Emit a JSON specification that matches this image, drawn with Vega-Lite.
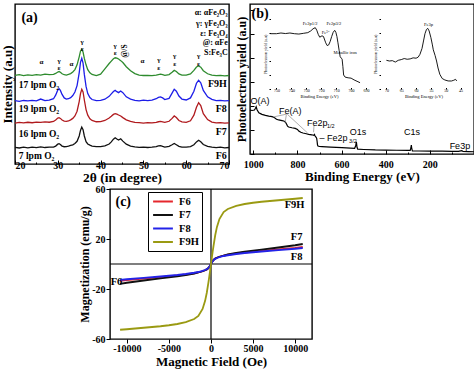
{
"$schema": "https://vega.github.io/schema/vega-lite/v6.json",
"padding": {"left": 0, "top": 3, "right": 0, "bottom": 0},
"background": "white",
"config": {
  "font": "Liberation Serif",
  "view": {"stroke": null},
  "axis": {"labelFont": "Liberation Serif", "labelFontWeight": "bold", "labelFontSize": 10, "labelColor": "black", "titleFont": "Liberation Serif", "titleFontWeight": "bold", "titleFontSize": 14, "titleColor": "black", "grid": false, "domain": false, "tickColor": "black", "tickWidth": 1},
  "text": {"font": "Liberation Serif", "fontWeight": "bold", "color": "black"}
},
"resolve": {"scale": {"color": "independent"}},
"spacing": -2,
"vconcat": [
 {"hconcat": [
  {
   "width": 214, "height": 160,
   "view": {"stroke": "black", "strokeWidth": 1.4},
   "encoding": {
     "x": {"field": "t", "type": "quantitative", "scale": {"domain": [20, 70], "nice": false, "zero": false},
       "axis": {"title": "2θ (in degree)", "values": [20,25,30,35,40,45,50,55,60,65,70], "labelExpr": "datum.value % 10 === 0 ? datum.label : ''", "tickSize": {"condition": {"test": "datum.value % 10 === 0", "value": -4}, "value": -2}, "labelPadding": 0, "titlePadding": 0, "titleFontSize": 13.5}},
     "y": {"field": "v", "type": "quantitative", "scale": {"domain": [0, 100], "nice": false},
       "axis": {"title": "Intensity (a.u)", "labels": false, "ticks": false, "titlePadding": 1, "titleFontSize": 13}}
   },
   "layer": [
     {"data": {"name": "xrd"}, "mark": {"type": "line", "strokeWidth": 1.3},
      "encoding": {"color": {"field": "s", "type": "nominal", "scale": {"domain": ["F6", "F7", "F8", "F9H"], "range": ["#111111", "#b01a1e", "#1d1de8", "#2e8b2e"]}, "legend": null}}},
     {"data": {"name": "a_lpm"}, "mark": {"type": "text", "align": "left", "baseline": "middle", "fontSize": 9.5}, "encoding": {"text": {"field": "txt"}}},
     {"data": {"name": "a_f"}, "mark": {"type": "text", "align": "right", "baseline": "middle", "fontSize": 10}, "encoding": {"text": {"field": "txt"}}},
     {"data": {"name": "a_leg"}, "mark": {"type": "text", "align": "right", "baseline": "middle", "fontSize": 8}, "encoding": {"text": {"field": "txt"}}},
     {"data": {"name": "a_sym"}, "mark": {"type": "text", "align": "center", "baseline": "middle", "fontSize": 7, "lineBreak": "\n", "lineHeight": 7.5}, "encoding": {"text": {"field": "txt"}}},
     {"data": {"name": "a_rot"}, "mark": {"type": "text", "align": "center", "baseline": "middle", "fontSize": 7.5, "angle": 270}, "encoding": {"text": {"field": "txt"}}},
     {"data": {"name": "a_tag"}, "mark": {"type": "text", "align": "left", "baseline": "middle", "fontSize": 14}, "encoding": {"text": {"field": "txt"}}}
   ]
  },
  {
   "width": 224, "height": 150,
   "view": {"stroke": "black", "strokeWidth": 1.4},
   "layer": [
    {
     "encoding": {
       "x": {"field": "e", "type": "quantitative", "scale": {"domain": [0, 1015], "reverse": true, "nice": false, "zero": false},
         "axis": {"title": "Binding Energy (eV)", "values": [100,200,300,400,500,600,700,800,900,1000], "labelExpr": "datum.value % 200 === 0 ? '' + datum.value : ''", "tickSize": {"condition": {"test": "datum.value % 200 === 0", "value": -4}, "value": -2}, "labelPadding": 9, "titlePadding": 1, "titleFontSize": 13}},
       "y": {"field": "y", "type": "quantitative", "scale": {"domain": [0, 100], "nice": false},
         "axis": {"title": "Photoelectron yield (a.u)", "labels": false, "values": [0,16,32,48,64,80,96], "tickSize": -4, "titlePadding": 1, "titleFontSize": 12}}
     },
     "layer": [
       {"data": {"name": "survey"}, "mark": {"type": "line", "color": "black", "strokeWidth": 1.2}},
       {"data": {"name": "leaders"}, "mark": {"type": "rule", "color": "#999999", "strokeWidth": 0.8}, "encoding": {"x2": {"field": "e2"}, "y2": {"field": "y2"}}},
       {"data": {"name": "b_left"}, "mark": {"type": "text", "font": "Liberation Sans", "fontWeight": "normal", "fontSize": 9, "align": "left", "baseline": "middle"}, "encoding": {"text": {"field": "txt"}}},
       {"data": {"name": "b_mid"}, "mark": {"type": "text", "font": "Liberation Sans", "fontWeight": "normal", "fontSize": 9, "align": "center", "baseline": "middle"}, "encoding": {"text": {"field": "txt"}}},
       {"data": {"name": "b_sub"}, "mark": {"type": "text", "font": "Liberation Sans", "fontWeight": "normal", "fontSize": 5.5, "align": "left", "baseline": "middle"}, "encoding": {"text": {"field": "txt"}}},
       {"data": {"name": "b_tag"}, "mark": {"type": "text", "align": "left", "baseline": "middle", "fontSize": 14}, "encoding": {"text": {"field": "txt"}}}
     ]
    },
    {
     "encoding": {
       "x": {"field": "e", "type": "quantitative", "scale": {"domain": [688, 755], "reverse": true, "nice": false, "zero": false, "range": [19, 119]},
         "axis": {"orient": "bottom", "offset": -65, "values": [690,700,710,720,730,740,750], "labelFontSize": 4, "labelFontWeight": "normal", "labelPadding": 1, "tickSize": -1.5, "title": "Binding Energy (eV)", "titleFontSize": 4.5, "titleFontWeight": "normal", "titlePadding": 1}},
       "y": {"field": "y", "type": "quantitative", "scale": {"domain": [0, 100], "nice": false, "range": [85, 15]},
         "axis": {"orient": "left", "offset": -19, "labels": false, "values": [0,20,40,60,80,100], "tickSize": -1.5, "title": "Photoelectron yield (a.u)", "titleFontSize": 4, "titleFontWeight": "normal", "titlePadding": 1}}
     },
     "layer": [
       {"data": {"values": [{}]}, "mark": {"type": "rect", "fillOpacity": 0, "stroke": "black", "strokeWidth": 0.8},
        "encoding": {"x": {"datum": 755}, "x2": {"datum": 688}, "y": {"datum": 0}, "y2": {"datum": 100}}},
       {"data": {"name": "fe2p"}, "mark": {"type": "line", "color": "black", "strokeWidth": 0.9}},
       {"data": {"name": "fe2p_txt"}, "mark": {"type": "text", "fontWeight": "normal", "fontSize": 4.5, "align": "center", "baseline": "middle"}, "encoding": {"text": {"field": "txt"}}}
     ]
    },
    {
     "encoding": {
       "x": {"field": "e", "type": "quantitative", "scale": {"domain": [42.5, 72.5], "reverse": true, "nice": false, "zero": false, "range": [129, 218]},
         "axis": {"orient": "bottom", "offset": -65, "values": [45,50,55,60,65,70], "labelFontSize": 4, "labelFontWeight": "normal", "labelPadding": 1, "tickSize": -1.5, "title": "Binding Energy (eV)", "titleFontSize": 4.5, "titleFontWeight": "normal", "titlePadding": 1}},
       "y": {"field": "y", "type": "quantitative", "scale": {"domain": [0, 100], "nice": false, "range": [85, 15]},
         "axis": {"orient": "left", "offset": -129, "labels": false, "values": [0,20,40,60,80,100], "tickSize": -1.5, "title": "Photoelectron yield (a.u)", "titleFontSize": 4, "titleFontWeight": "normal", "titlePadding": 1}}
     },
     "layer": [
       {"data": {"values": [{}]}, "mark": {"type": "rect", "fillOpacity": 0, "stroke": "black", "strokeWidth": 0.8},
        "encoding": {"x": {"datum": 72.5}, "x2": {"datum": 42.5}, "y": {"datum": 0}, "y2": {"datum": 100}}},
       {"data": {"name": "fe3p"}, "mark": {"type": "line", "color": "black", "strokeWidth": 0.9}},
       {"data": {"name": "fe3p_txt"}, "mark": {"type": "text", "fontWeight": "normal", "fontSize": 4.5, "align": "center", "baseline": "middle"}, "encoding": {"text": {"field": "txt"}}}
     ]
    }
   ],
   "resolve": {"scale": {"x": "independent", "y": "independent"}, "axis": {"x": "independent", "y": "independent"}}
  }
 ], "spacing": 1, "resolve": {"scale": {"color": "independent"}}},
 {"hconcat": [
  {"width": 62, "height": 10, "data": {"values": []}, "mark": {"type": "point", "opacity": 0}},
  {
   "width": 202, "height": 150,
   "view": {"stroke": "black", "strokeWidth": 1.4},
   "layer": [
     {"data": {"values": [{}]}, "mark": {"type": "rule", "color": "black", "strokeWidth": 1.2}, "encoding": {"x": {"datum": 0}}},
     {"data": {"values": [{}]}, "mark": {"type": "rule", "color": "black", "strokeWidth": 1.2}, "encoding": {"y": {"datum": 0}}},
     {"data": {"name": "mh"}, "mark": {"type": "line", "strokeWidth": 1.8},
      "encoding": {
        "x": {"field": "h", "type": "quantitative", "scale": {"domain": [-12000, 12000], "nice": false},
          "axis": {"title": "Magnetic Field (Oe)", "values": [-10000,-7500,-5000,-2500,0,2500,5000,7500,10000], "labelExpr": "datum.value % 5000 === 0 ? '' + datum.value : ''", "tickSize": {"condition": {"test": "datum.value % 5000 === 0", "value": 4}, "value": 2}, "labelPadding": 0, "titlePadding": 2, "titleFontSize": 13}},
        "y": {"field": "m", "type": "quantitative", "scale": {"domain": [-60, 60], "nice": false},
          "axis": {"title": "Magnetization (emu/g)", "values": [-60,-50,-40,-30,-20,-10,0,10,20,30,40,50,60], "labelExpr": "datum.value % 20 === 0 ? '' + datum.value : ''", "tickSize": {"condition": {"test": "datum.value % 20 === 0", "value": 4}, "value": 2}, "labelPadding": 1, "titlePadding": 0, "titleFontSize": 12}},
        "color": {"field": "s", "type": "nominal", "scale": {"domain": ["F6", "F7", "F8", "F9H"], "range": ["#e5272d", "#111111", "#2323e8", "#9a9a12"]},
          "legend": {"title": null, "orient": "none", "legendX": 38, "legendY": 3, "direction": "vertical", "symbolType": "M-1.8,0H1.8", "symbolStrokeWidth": 2, "symbolSize": 121, "symbolOffset": 5.5, "labelFont": "Liberation Serif", "labelFontWeight": "bold", "labelFontSize": 10.5, "labelColor": "black", "strokeColor": "black", "fillColor": "white", "padding": 3, "rowPadding": 1.5, "labelOffset": 9.5}}
      }},
     {"data": {"name": "c_txt"}, "mark": {"type": "text", "align": "center", "baseline": "middle", "fontSize": 10.5},
      "encoding": {"x": {"field": "h", "type": "quantitative"}, "y": {"field": "m", "type": "quantitative"}, "text": {"field": "txt"}}},
     {"data": {"name": "c_tag"}, "mark": {"type": "text", "align": "left", "baseline": "middle", "fontSize": 14},
      "encoding": {"x": {"field": "h", "type": "quantitative"}, "y": {"field": "m", "type": "quantitative"}, "text": {"field": "txt"}}}
   ]
  }
 ], "spacing": 0, "resolve": {"scale": {"color": "independent"}}}
],
"datasets": {
 "a_lpm": [{"t": 20.9, "v": 49.4, "txt": "17 lpm O₂"}, {"t": 20.9, "v": 34.4, "txt": "19 lpm O₂"}, {"t": 20.9, "v": 18.8, "txt": "16 lpm O₂"}, {"t": 20.9, "v": 5, "txt": "7 lpm O₂"}],
 "a_f": [{"t": 69.5, "v": 50, "txt": "F9H"}, {"t": 69.5, "v": 34.4, "txt": "F8"}, {"t": 69.5, "v": 20, "txt": "F7"}, {"t": 69.5, "v": 5, "txt": "F6"}],
 "a_leg": [{"t": 69.7, "v": 94.4, "txt": "α: αFe₂O₃"}, {"t": 69.7, "v": 87.5, "txt": "γ: γFe₂O₃"}, {"t": 69.7, "v": 81.3, "txt": "ε: Fe₃O₄"}, {"t": 69.7, "v": 75.6, "txt": "@: αFe"}, {"t": 69.7, "v": 69.4, "txt": "S:Fe₃C"}],
 "a_sym": [{"t": 26.2, "v": 63.8, "txt": "α"}, {"t": 30.3, "v": 64.4, "txt": "γ\nε"}, {"t": 33.2, "v": 62.5, "txt": "α"}, {"t": 35.7, "v": 76.3, "txt": "γ\nε"}, {"t": 43.4, "v": 73.8, "txt": "γ\nε"}, {"t": 49.8, "v": 64.4, "txt": "α"}, {"t": 53.6, "v": 65, "txt": "γ\nε"}, {"t": 57.3, "v": 67.5, "txt": "γ\nε"}, {"t": 62.9, "v": 67.5, "txt": "γ\nε"}],
 "a_rot": [{"t": 45.8, "v": 70.6, "txt": "@/S"}],
 "a_tag": [{"t": 21.5, "v": 91.3, "txt": "(a)"}],
 "xrd": [
  {"t":20,"s":"F6","v":10.4},{"t":21,"s":"F6","v":10.0},{"t":22,"s":"F6","v":10.5},{"t":23,"s":"F6","v":10.1},{"t":24,"s":"F6","v":10.6},{"t":25,"s":"F6","v":10.2},{"t":26,"s":"F6","v":10.7},{"t":27,"s":"F6","v":10.3},{"t":28,"s":"F6","v":10.5},{"t":29,"s":"F6","v":10.6},{"t":29.5,"s":"F6","v":11.2},{"t":30,"s":"F6","v":12.4},{"t":30.3,"s":"F6","v":12.7},{"t":30.6,"s":"F6","v":12.2},{"t":31,"s":"F6","v":11.2},{"t":31.5,"s":"F6","v":10.8},{"t":32,"s":"F6","v":10.9},{"t":32.5,"s":"F6","v":11.2},{"t":33,"s":"F6","v":11.6},{"t":33.5,"s":"F6","v":12.0},{"t":34,"s":"F6","v":12.8},{"t":34.5,"s":"F6","v":14.2},{"t":35,"s":"F6","v":17.5},{"t":35.3,"s":"F6","v":21},{"t":35.6,"s":"F6","v":23.1},{"t":35.9,"s":"F6","v":21.5},{"t":36.2,"s":"F6","v":17.5},{"t":36.6,"s":"F6","v":14},{"t":37,"s":"F6","v":12.5},{"t":37.5,"s":"F6","v":11.8},{"t":38,"s":"F6","v":11.2},{"t":39,"s":"F6","v":10.9},{"t":40,"s":"F6","v":10.8},{"t":41,"s":"F6","v":11.3},{"t":42,"s":"F6","v":12.5},{"t":42.5,"s":"F6","v":13.8},{"t":43,"s":"F6","v":15.5},{"t":43.4,"s":"F6","v":16.4},{"t":43.8,"s":"F6","v":15.6},{"t":44.2,"s":"F6","v":15.0},{"t":44.7,"s":"F6","v":15.8},{"t":45.2,"s":"F6","v":14.3},{"t":46,"s":"F6","v":12.4},{"t":47,"s":"F6","v":11.2},{"t":48,"s":"F6","v":10.7},{"t":49,"s":"F6","v":10.4},{"t":50,"s":"F6","v":10.6},{"t":51,"s":"F6","v":10.3},{"t":52,"s":"F6","v":10.5},{"t":53,"s":"F6","v":10.8},{"t":53.5,"s":"F6","v":11.3},{"t":54,"s":"F6","v":11.5},{"t":54.5,"s":"F6","v":11.0},{"t":55,"s":"F6","v":10.6},{"t":56,"s":"F6","v":11.0},{"t":56.7,"s":"F6","v":12.0},{"t":57.2,"s":"F6","v":12.8},{"t":57.7,"s":"F6","v":12.0},{"t":58.3,"s":"F6","v":11.0},{"t":59,"s":"F6","v":10.6},{"t":60,"s":"F6","v":10.5},{"t":61,"s":"F6","v":10.9},{"t":61.8,"s":"F6","v":12.0},{"t":62.4,"s":"F6","v":13.8},{"t":62.9,"s":"F6","v":14.8},{"t":63.4,"s":"F6","v":13.9},{"t":64,"s":"F6","v":12.2},{"t":65,"s":"F6","v":11.0},{"t":66,"s":"F6","v":10.5},{"t":67,"s":"F6","v":10.2},{"t":68,"s":"F6","v":10.5},{"t":69,"s":"F6","v":10.1},{"t":70,"s":"F6","v":10.3},
  {"t":20,"s":"F7","v":25.6},{"t":21,"s":"F7","v":26.0},{"t":22,"s":"F7","v":25.7},{"t":23,"s":"F7","v":26.1},{"t":24,"s":"F7","v":25.8},{"t":25,"s":"F7","v":26.2},{"t":26,"s":"F7","v":26.0},{"t":27,"s":"F7","v":26.3},{"t":28,"s":"F7","v":26.1},{"t":29,"s":"F7","v":26.6},{"t":29.5,"s":"F7","v":27.5},{"t":30,"s":"F7","v":28.7},{"t":30.3,"s":"F7","v":29.0},{"t":30.6,"s":"F7","v":28.5},{"t":31,"s":"F7","v":27.5},{"t":31.5,"s":"F7","v":26.8},{"t":32,"s":"F7","v":26.6},{"t":32.5,"s":"F7","v":26.9},{"t":33,"s":"F7","v":27.6},{"t":33.5,"s":"F7","v":28.5},{"t":34,"s":"F7","v":30},{"t":34.5,"s":"F7","v":33},{"t":35,"s":"F7","v":39},{"t":35.3,"s":"F7","v":44},{"t":35.6,"s":"F7","v":46.7},{"t":35.9,"s":"F7","v":45},{"t":36.2,"s":"F7","v":40},{"t":36.6,"s":"F7","v":34},{"t":37,"s":"F7","v":30.5},{"t":37.5,"s":"F7","v":28.3},{"t":38,"s":"F7","v":27.2},{"t":39,"s":"F7","v":26.4},{"t":40,"s":"F7","v":26.5},{"t":41,"s":"F7","v":27.2},{"t":42,"s":"F7","v":28.7},{"t":42.5,"s":"F7","v":29.8},{"t":43,"s":"F7","v":31},{"t":43.4,"s":"F7","v":31.5},{"t":43.8,"s":"F7","v":31.2},{"t":44.2,"s":"F7","v":30.6},{"t":44.7,"s":"F7","v":30.0},{"t":45.2,"s":"F7","v":29.0},{"t":46,"s":"F7","v":27.6},{"t":47,"s":"F7","v":26.7},{"t":48,"s":"F7","v":26.0},{"t":49,"s":"F7","v":25.8},{"t":50,"s":"F7","v":25.6},{"t":51,"s":"F7","v":25.9},{"t":52,"s":"F7","v":25.7},{"t":53,"s":"F7","v":26.0},{"t":53.5,"s":"F7","v":26.4},{"t":54,"s":"F7","v":26.6},{"t":54.5,"s":"F7","v":26.3},{"t":55,"s":"F7","v":26.0},{"t":56,"s":"F7","v":26.7},{"t":56.7,"s":"F7","v":28.5},{"t":57.2,"s":"F7","v":30.0},{"t":57.7,"s":"F7","v":29.0},{"t":58.3,"s":"F7","v":27.2},{"t":59,"s":"F7","v":26.3},{"t":60,"s":"F7","v":26.0},{"t":61,"s":"F7","v":27.0},{"t":61.8,"s":"F7","v":30.5},{"t":62.4,"s":"F7","v":35.5},{"t":62.9,"s":"F7","v":38.3},{"t":63.4,"s":"F7","v":36.5},{"t":64,"s":"F7","v":31.5},{"t":65,"s":"F7","v":27.8},{"t":66,"s":"F7","v":26.2},{"t":67,"s":"F7","v":25.7},{"t":68,"s":"F7","v":25.9},{"t":69,"s":"F7","v":25.5},{"t":70,"s":"F7","v":25.7},
  {"t":20,"s":"F8","v":39.6},{"t":21,"s":"F8","v":39.2},{"t":22,"s":"F8","v":39.7},{"t":23,"s":"F8","v":39.4},{"t":24,"s":"F8","v":39.8},{"t":25,"s":"F8","v":39.5},{"t":26,"s":"F8","v":40.6},{"t":27,"s":"F8","v":39.6},{"t":28,"s":"F8","v":39.9},{"t":29,"s":"F8","v":40.8},{"t":29.5,"s":"F8","v":43},{"t":30,"s":"F8","v":46.3},{"t":30.3,"s":"F8","v":47.1},{"t":30.6,"s":"F8","v":46},{"t":31,"s":"F8","v":43.5},{"t":31.5,"s":"F8","v":41.3},{"t":32,"s":"F8","v":40.6},{"t":32.5,"s":"F8","v":40.8},{"t":33,"s":"F8","v":41.5},{"t":33.5,"s":"F8","v":42.8},{"t":34,"s":"F8","v":45},{"t":34.5,"s":"F8","v":49},{"t":35,"s":"F8","v":57},{"t":35.3,"s":"F8","v":63.5},{"t":35.6,"s":"F8","v":66},{"t":35.9,"s":"F8","v":63},{"t":36.2,"s":"F8","v":56},{"t":36.6,"s":"F8","v":48.5},{"t":37,"s":"F8","v":44},{"t":37.5,"s":"F8","v":41.5},{"t":38,"s":"F8","v":40.3},{"t":39,"s":"F8","v":39.6},{"t":40,"s":"F8","v":39.8},{"t":41,"s":"F8","v":40.5},{"t":42,"s":"F8","v":42.3},{"t":42.5,"s":"F8","v":43.8},{"t":43,"s":"F8","v":45.3},{"t":43.4,"s":"F8","v":46.0},{"t":43.8,"s":"F8","v":45.2},{"t":44.2,"s":"F8","v":44.6},{"t":44.7,"s":"F8","v":45.6},{"t":45.2,"s":"F8","v":44.6},{"t":46,"s":"F8","v":42},{"t":47,"s":"F8","v":40.6},{"t":48,"s":"F8","v":39.8},{"t":49,"s":"F8","v":39.5},{"t":50,"s":"F8","v":39.9},{"t":51,"s":"F8","v":39.6},{"t":52,"s":"F8","v":39.9},{"t":53,"s":"F8","v":40.8},{"t":53.5,"s":"F8","v":41.6},{"t":54,"s":"F8","v":41.9},{"t":54.5,"s":"F8","v":41.3},{"t":55,"s":"F8","v":40.3},{"t":56,"s":"F8","v":41.0},{"t":56.7,"s":"F8","v":44.3},{"t":57.2,"s":"F8","v":46.7},{"t":57.7,"s":"F8","v":45.5},{"t":58.3,"s":"F8","v":42.5},{"t":59,"s":"F8","v":40.6},{"t":60,"s":"F8","v":40.0},{"t":61,"s":"F8","v":41.3},{"t":61.8,"s":"F8","v":45.5},{"t":62.4,"s":"F8","v":50.5},{"t":62.9,"s":"F8","v":52.3},{"t":63.4,"s":"F8","v":50.8},{"t":64,"s":"F8","v":46},{"t":65,"s":"F8","v":42},{"t":66,"s":"F8","v":40.4},{"t":67,"s":"F8","v":39.6},{"t":68,"s":"F8","v":39.8},{"t":69,"s":"F8","v":39.4},{"t":70,"s":"F8","v":39.6},
  {"t":20,"s":"F9H","v":55.4},{"t":21,"s":"F9H","v":55.8},{"t":22,"s":"F9H","v":55.3},{"t":23,"s":"F9H","v":55.7},{"t":24,"s":"F9H","v":55.4},{"t":25,"s":"F9H","v":55.8},{"t":26,"s":"F9H","v":55.5},{"t":27,"s":"F9H","v":56.2},{"t":28,"s":"F9H","v":55.8},{"t":29,"s":"F9H","v":56.0},{"t":29.5,"s":"F9H","v":56.6},{"t":30,"s":"F9H","v":57.5},{"t":30.3,"s":"F9H","v":57.8},{"t":30.6,"s":"F9H","v":57.3},{"t":31,"s":"F9H","v":56.4},{"t":31.5,"s":"F9H","v":55.8},{"t":32,"s":"F9H","v":55.6},{"t":32.5,"s":"F9H","v":56.0},{"t":33,"s":"F9H","v":56.5},{"t":33.5,"s":"F9H","v":57.5},{"t":34,"s":"F9H","v":59},{"t":34.5,"s":"F9H","v":62},{"t":35,"s":"F9H","v":67},{"t":35.3,"s":"F9H","v":70.5},{"t":35.6,"s":"F9H","v":71.7},{"t":35.9,"s":"F9H","v":70},{"t":36.2,"s":"F9H","v":66},{"t":36.6,"s":"F9H","v":62},{"t":37,"s":"F9H","v":59},{"t":37.5,"s":"F9H","v":57},{"t":38,"s":"F9H","v":56},{"t":39,"s":"F9H","v":55.3},{"t":40,"s":"F9H","v":56.2},{"t":41,"s":"F9H","v":59.5},{"t":42,"s":"F9H","v":62.8},{"t":42.5,"s":"F9H","v":64.3},{"t":43,"s":"F9H","v":65.8},{"t":43.4,"s":"F9H","v":66.4},{"t":43.8,"s":"F9H","v":66.2},{"t":44.2,"s":"F9H","v":65.6},{"t":44.7,"s":"F9H","v":64.6},{"t":45.2,"s":"F9H","v":63.4},{"t":46,"s":"F9H","v":60.8},{"t":47,"s":"F9H","v":58.3},{"t":48,"s":"F9H","v":56.5},{"t":49,"s":"F9H","v":55.6},{"t":50,"s":"F9H","v":55.3},{"t":51,"s":"F9H","v":55.4},{"t":52,"s":"F9H","v":55.2},{"t":53,"s":"F9H","v":55.5},{"t":53.5,"s":"F9H","v":55.9},{"t":54,"s":"F9H","v":56.2},{"t":54.5,"s":"F9H","v":55.8},{"t":55,"s":"F9H","v":55.4},{"t":56,"s":"F9H","v":55.9},{"t":56.7,"s":"F9H","v":57.3},{"t":57.2,"s":"F9H","v":58.5},{"t":57.7,"s":"F9H","v":57.8},{"t":58.3,"s":"F9H","v":56.3},{"t":59,"s":"F9H","v":55.6},{"t":60,"s":"F9H","v":55.5},{"t":61,"s":"F9H","v":56.3},{"t":61.8,"s":"F9H","v":58.5},{"t":62.4,"s":"F9H","v":60.6},{"t":62.9,"s":"F9H","v":61.3},{"t":63.4,"s":"F9H","v":60.5},{"t":64,"s":"F9H","v":58.3},{"t":65,"s":"F9H","v":56.4},{"t":66,"s":"F9H","v":55.6},{"t":67,"s":"F9H","v":55.2},{"t":68,"s":"F9H","v":55.4},{"t":69,"s":"F9H","v":55.1},{"t":70,"s":"F9H","v":55.3}
 ],
 "survey": [
  {"e":1015,"y":29.3},{"e":1005,"y":29.0},{"e":995,"y":29.3},{"e":990,"y":30.5},{"e":987,"y":31.5},{"e":983,"y":29.5},{"e":975,"y":27.5},{"e":961,"y":26.4},{"e":945,"y":25.8},{"e":930,"y":25.3},{"e":915,"y":24.9},{"e":905,"y":24.3},{"e":895,"y":23.2},{"e":885,"y":22.7},{"e":870,"y":22.3},{"e":862,"y":22.0},{"e":855,"y":21.3},{"e":850,"y":20.2},{"e":845,"y":18.6},{"e":840,"y":18.0},{"e":825,"y":17.5},{"e":810,"y":17.1},{"e":800,"y":16.4},{"e":794,"y":15.3},{"e":785,"y":14.5},{"e":775,"y":14.0},{"e":760,"y":13.5},{"e":749,"y":13.1},{"e":735,"y":12.8},{"e":726,"y":12.4},{"e":723,"y":13.0},{"e":720,"y":12.0},{"e":716,"y":11.2},{"e":713,"y":10.5},{"e":711,"y":8.5},{"e":709,"y":6.0},{"e":707,"y":5.3},{"e":700,"y":5.0},{"e":689,"y":4.9},{"e":650,"y":4.6},{"e":598,"y":4.2},{"e":560,"y":3.9},{"e":541,"y":3.8},{"e":536,"y":5.5},{"e":533,"y":8.2},{"e":530,"y":4.5},{"e":527,"y":3.2},{"e":500,"y":3.0},{"e":447,"y":2.7},{"e":400,"y":2.6},{"e":350,"y":2.5},{"e":300,"y":2.4},{"e":289,"y":2.4},{"e":286,"y":4.0},{"e":284,"y":6.0},{"e":282,"y":3.5},{"e":279,"y":2.0},{"e":250,"y":2.0},{"e":200,"y":1.9},{"e":145,"y":1.9},{"e":100,"y":1.8},{"e":70,"y":1.7},{"e":60,"y":2.1},{"e":55,"y":2.3},{"e":50,"y":1.7},{"e":24,"y":1.6},{"e":0,"y":1.5}
 ],
 "leaders": [{"e":852,"y":26.5,"e2":906,"y2":24.8},{"e":850,"y":26.5,"e2":856,"y2":20.9},{"e":846,"y":26.5,"e2":754,"y2":14.0},{"e":725,"y":19.0,"e2":727,"y2":14.5}],
 "b_left": [{"e":1013,"y":35.3,"txt":"O(A)"},{"e":884,"y":28.7,"txt":"Fe(A)"},{"e":757,"y":21,"txt":"Fe2p"},{"e":700,"y":10.5,"txt":"– Fe2p"}],
 "b_mid": [{"e":526,"y":14.7,"txt":"O1s"},{"e":281,"y":14.7,"txt":"C1s"},{"e":64,"y":5.5,"txt":"Fe3p"}],
 "b_sub": [{"e":666,"y":19,"txt":"1/2"},{"e":566,"y":8.5,"txt":"3/2"}],
 "b_tag": [{"e":1008,"y":93.5,"txt":"(b)"}],
 "fe2p": [
  {"e":754,"y":79},{"e":750,"y":79},{"e":747,"y":80},{"e":744,"y":79.2},{"e":741,"y":80},{"e":738,"y":79},{"e":735,"y":78.5},{"e":732,"y":79.5},{"e":729,"y":80.5},{"e":727,"y":83},{"e":725.5,"y":86},{"e":724,"y":87.6},{"e":723,"y":84},{"e":722,"y":78},{"e":721,"y":74},{"e":719.5,"y":76},{"e":718.5,"y":75},{"e":717,"y":66},{"e":716,"y":62},{"e":715,"y":63},{"e":714,"y":68},{"e":713,"y":75},{"e":712,"y":81},{"e":711,"y":83.8},{"e":710.2,"y":81},{"e":709.5,"y":75},{"e":708.8,"y":66},{"e":708,"y":55},{"e":707.3,"y":46},{"e":706.5,"y":44},{"e":706,"y":42.5},{"e":705.5,"y":32},{"e":705,"y":20},{"e":704,"y":17},{"e":702,"y":16},{"e":700,"y":15.5},{"e":698,"y":13},{"e":696,"y":11},{"e":694,"y":9}
 ],
 "fe2p_txt": [{"e":727.5,"y":93.3,"txt":"Fe2p1/2"},{"e":717,"y":80,"txt":"Fe³⁺"},{"e":711.5,"y":93.3,"txt":"Fe2p3/2"},{"e":704,"y":51.4,"txt":"Metallic iron"}],
 "fe3p": [
  {"e":70,"y":41},{"e":69,"y":40},{"e":68,"y":40.5},{"e":67,"y":38.5},{"e":66,"y":41},{"e":65,"y":42},{"e":64,"y":43.5},{"e":63,"y":42.5},{"e":62,"y":43},{"e":61,"y":44.5},{"e":60,"y":44},{"e":59.3,"y":45.5},{"e":58.7,"y":49.5},{"e":58,"y":58},{"e":57.5,"y":68.6},{"e":57,"y":79},{"e":56.5,"y":85},{"e":56.1,"y":86.7},{"e":55.6,"y":83},{"e":55,"y":73.3},{"e":54.5,"y":63},{"e":54.2,"y":56},{"e":53.6,"y":48},{"e":53.1,"y":40},{"e":52.6,"y":30},{"e":52,"y":21},{"e":51.2,"y":15},{"e":50.3,"y":12.9},{"e":49.2,"y":11.5},{"e":48.1,"y":11.4},{"e":47.3,"y":12.5},{"e":46.7,"y":13.8},{"e":46.3,"y":11.5}
 ],
 "fe3p_txt": [{"e":55.8,"y":92,"txt":"Fe3p"}],
 "mh": [
  {"h":-10800,"s":"F6","m":-13.5},{"h":-10000,"s":"F6","m":-12.9},{"h":-8000,"s":"F6","m":-11.7},{"h":-6000,"s":"F6","m":-10.5},{"h":-5000,"s":"F6","m":-9.9},{"h":-4000,"s":"F6","m":-9.2},{"h":-3000,"s":"F6","m":-8.4},{"h":-2000,"s":"F6","m":-7.4},{"h":-1500,"s":"F6","m":-6.7},{"h":-1000,"s":"F6","m":-5.8},{"h":-700,"s":"F6","m":-5.0},{"h":-500,"s":"F6","m":-4.3},{"h":-300,"s":"F6","m":-3.2},{"h":-200,"s":"F6","m":-2.3},{"h":-100,"s":"F6","m":-1.2},{"h":0,"s":"F6","m":0},{"h":100,"s":"F6","m":1.2},{"h":200,"s":"F6","m":2.3},{"h":300,"s":"F6","m":3.2},{"h":500,"s":"F6","m":4.3},{"h":700,"s":"F6","m":5.0},{"h":1000,"s":"F6","m":5.8},{"h":1500,"s":"F6","m":6.7},{"h":2000,"s":"F6","m":7.4},{"h":3000,"s":"F6","m":8.4},{"h":4000,"s":"F6","m":9.2},{"h":5000,"s":"F6","m":9.9},{"h":6000,"s":"F6","m":10.5},{"h":8000,"s":"F6","m":11.7},{"h":10000,"s":"F6","m":12.9},{"h":10900,"s":"F6","m":13.6},
  {"h":-10800,"s":"F7","m":-15.9},{"h":-10000,"s":"F7","m":-15.0},{"h":-8000,"s":"F7","m":-13.2},{"h":-6000,"s":"F7","m":-11.5},{"h":-5000,"s":"F7","m":-10.7},{"h":-4000,"s":"F7","m":-9.8},{"h":-3000,"s":"F7","m":-8.8},{"h":-2000,"s":"F7","m":-7.6},{"h":-1500,"s":"F7","m":-6.8},{"h":-1000,"s":"F7","m":-5.8},{"h":-700,"s":"F7","m":-5.0},{"h":-500,"s":"F7","m":-4.3},{"h":-300,"s":"F7","m":-3.2},{"h":-200,"s":"F7","m":-2.3},{"h":-100,"s":"F7","m":-1.2},{"h":0,"s":"F7","m":0},{"h":100,"s":"F7","m":1.2},{"h":200,"s":"F7","m":2.3},{"h":300,"s":"F7","m":3.2},{"h":500,"s":"F7","m":4.3},{"h":700,"s":"F7","m":5.0},{"h":1000,"s":"F7","m":5.8},{"h":1500,"s":"F7","m":6.8},{"h":2000,"s":"F7","m":7.6},{"h":3000,"s":"F7","m":8.8},{"h":4000,"s":"F7","m":9.8},{"h":5000,"s":"F7","m":10.7},{"h":6000,"s":"F7","m":11.5},{"h":8000,"s":"F7","m":13.2},{"h":10000,"s":"F7","m":15.0},{"h":10900,"s":"F7","m":16.0},
  {"h":-10800,"s":"F8","m":-12.7},{"h":-10000,"s":"F8","m":-12.2},{"h":-8000,"s":"F8","m":-11.1},{"h":-6000,"s":"F8","m":-10.0},{"h":-5000,"s":"F8","m":-9.4},{"h":-4000,"s":"F8","m":-8.8},{"h":-3000,"s":"F8","m":-8.0},{"h":-2000,"s":"F8","m":-7.0},{"h":-1500,"s":"F8","m":-6.4},{"h":-1000,"s":"F8","m":-5.5},{"h":-700,"s":"F8","m":-4.8},{"h":-500,"s":"F8","m":-4.1},{"h":-300,"s":"F8","m":-3.1},{"h":-200,"s":"F8","m":-2.2},{"h":-100,"s":"F8","m":-1.1},{"h":0,"s":"F8","m":0},{"h":100,"s":"F8","m":1.1},{"h":200,"s":"F8","m":2.2},{"h":300,"s":"F8","m":3.1},{"h":500,"s":"F8","m":4.1},{"h":700,"s":"F8","m":4.8},{"h":1000,"s":"F8","m":5.5},{"h":1500,"s":"F8","m":6.4},{"h":2000,"s":"F8","m":7.0},{"h":3000,"s":"F8","m":8.0},{"h":4000,"s":"F8","m":8.8},{"h":5000,"s":"F8","m":9.4},{"h":6000,"s":"F8","m":10.0},{"h":8000,"s":"F8","m":11.1},{"h":10000,"s":"F8","m":12.2},{"h":10900,"s":"F8","m":12.8},
  {"h":-10800,"s":"F9H","m":-52.6},{"h":-10000,"s":"F9H","m":-52.2},{"h":-8000,"s":"F9H","m":-51.0},{"h":-6000,"s":"F9H","m":-49.8},{"h":-5000,"s":"F9H","m":-49.0},{"h":-4000,"s":"F9H","m":-48.0},{"h":-3000,"s":"F9H","m":-46.5},{"h":-2000,"s":"F9H","m":-44.0},{"h":-1500,"s":"F9H","m":-41.5},{"h":-1000,"s":"F9H","m":-36.0},{"h":-700,"s":"F9H","m":-29.5},{"h":-500,"s":"F9H","m":-23.0},{"h":-300,"s":"F9H","m":-14.5},{"h":-200,"s":"F9H","m":-10.0},{"h":-100,"s":"F9H","m":-5.0},{"h":0,"s":"F9H","m":0},{"h":100,"s":"F9H","m":5.0},{"h":200,"s":"F9H","m":10.0},{"h":300,"s":"F9H","m":14.5},{"h":500,"s":"F9H","m":23.0},{"h":700,"s":"F9H","m":29.5},{"h":1000,"s":"F9H","m":36.0},{"h":1500,"s":"F9H","m":41.5},{"h":2000,"s":"F9H","m":44.0},{"h":3000,"s":"F9H","m":46.5},{"h":4000,"s":"F9H","m":48.0},{"h":5000,"s":"F9H","m":49.0},{"h":6000,"s":"F9H","m":49.8},{"h":8000,"s":"F9H","m":51.0},{"h":10000,"s":"F9H","m":52.2},{"h":10900,"s":"F9H","m":52.8}
 ],
 "c_txt": [{"h":9930,"m":47.2,"txt":"F9H"},{"h":10165,"m":21.3,"txt":"F7"},{"h":10165,"m":5.5,"txt":"F8"},{"h":-11230,"m":-14.2,"txt":"F6"}],
 "c_tag": [{"h":-11350,"m":49.6,"txt":"(c)"}]
}
}
